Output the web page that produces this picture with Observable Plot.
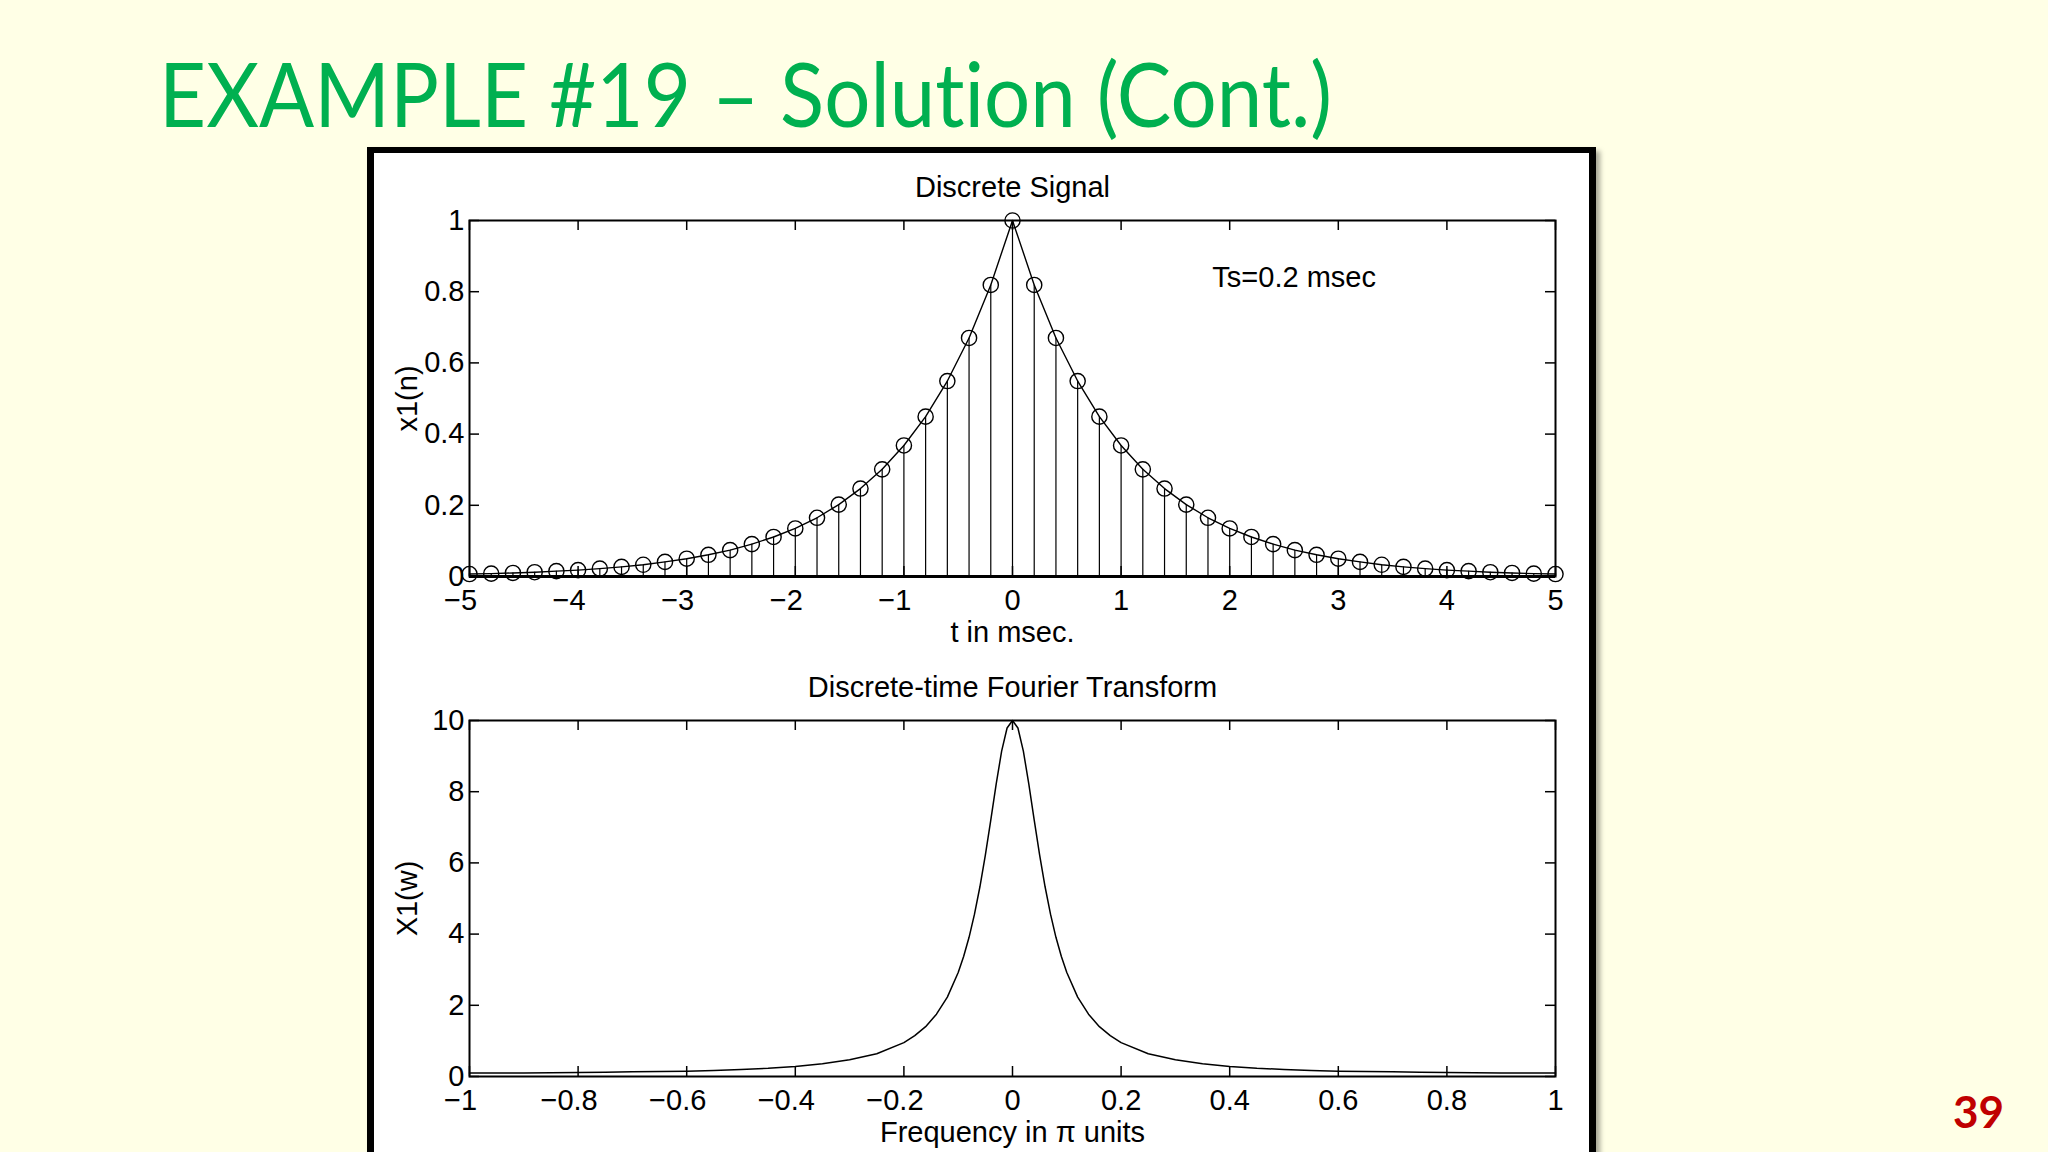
<!DOCTYPE html>
<html>
<head>
<meta charset="utf-8">
<script src="https://cdn.jsdelivr.net/npm/d3@7"></script>
<script src="https://cdn.jsdelivr.net/npm/@observablehq/plot@0.6"></script>
<style>
  html, body { margin: 0; padding: 0; }
  body { width: 2048px; height: 1152px; overflow: hidden; position: relative; background: #FFFFE6; }
  #frame { position: absolute; left: 367px; top: 147px; width: 1215px; height: 1100px;
           border: 7px solid #000; border-top-width: 6px; background: #fff;
           box-shadow: 4px 4px 5px rgba(0,0,0,0.35); }
  .plotbox { position: absolute; left: 375px; }
  #p1 { top: 155px; }
  #p2 { top: 655px; }
  #overlay { position: absolute; left: 0; top: 0; pointer-events: none; font-variant-ligatures: none; }
</style>
</head>
<body>
<div id="frame"></div>
<div id="p1" class="plotbox"></div>
<div id="p2" class="plotbox"></div>
<svg id="overlay" width="2048" height="1152">
  <text x="159" y="127" font-family="Lato, 'Open Sans', sans-serif" font-size="90" fill="#00B050"
        textLength="1173" lengthAdjust="spacingAndGlyphs" style="font-variant-ligatures:none">EXAMPLE #19 – Solution (Cont.)</text>
  <text x="1953" y="1128" font-family="Lato, 'Open Sans', sans-serif" font-weight="bold" font-size="44" fill="#C00000">39</text>
</svg>
<script>
// ---- Data ----
const tValues = [-5,-4.8,-4.6,-4.4,-4.2,-4,-3.8,-3.6,-3.4,-3.2,-3,-2.8,-2.6,-2.4,-2.2,-2,-1.8,-1.6,-1.4,-1.2,-1,-0.8,-0.6,-0.4,-0.2,
  0,0.2,0.4,0.6,0.8,1,1.2,1.4,1.6,1.8,2,2.2,2.4,2.6,2.8,3,3.2,3.4,3.6,3.8,4,4.2,4.4,4.6,4.8,5];
const x1Values = [0.007,0.008,0.010,0.012,0.015,0.018,0.022,0.027,0.033,0.041,0.050,0.061,0.074,0.091,0.111,0.135,0.165,0.202,0.247,0.301,0.368,0.449,0.549,0.670,0.819,
  1.000,
  0.819,0.670,0.549,0.449,0.368,0.301,0.247,0.202,0.165,0.135,0.111,0.091,0.074,0.061,0.050,0.041,0.033,0.027,0.022,0.018,0.015,0.012,0.010,0.008,0.007];

const freqValues = [-1,-0.95,-0.9,-0.85,-0.8,-0.75,-0.7,-0.65,-0.6,-0.55,-0.5,-0.45,-0.4,-0.35,-0.3,-0.25,-0.2,-0.18,-0.16,-0.14,-0.12,
  -0.1,-0.09,-0.08,-0.07,-0.06,-0.05,-0.04,-0.03,-0.02,-0.01,
  0,
  0.01,0.02,0.03,0.04,0.05,0.06,0.07,0.08,0.09,0.1,
  0.12,0.14,0.16,0.18,0.2,0.25,0.3,0.35,0.4,0.45,0.5,0.55,0.6,0.65,0.7,0.75,0.8,0.85,0.9,0.95,1];
const X1Values = [0.10,0.10,0.10,0.105,0.11,0.12,0.13,0.14,0.15,0.17,0.20,0.23,0.28,0.36,0.47,0.64,0.95,1.15,1.40,1.75,2.23,
  2.92,3.37,3.91,4.56,5.33,6.22,7.20,8.22,9.14,9.79,
  10.0,
  9.79,9.14,8.22,7.20,6.22,5.33,4.56,3.91,3.37,2.92,
  2.23,1.75,1.40,1.15,0.95,0.64,0.47,0.36,0.28,0.23,0.20,0.17,0.15,0.14,0.13,0.12,0.11,0.105,0.10,0.10,0.10];

const topXTicks = [-5,-4,-3,-2,-1,0,1,2,3,4,5];
const topYTicks = [0,0.2,0.4,0.6,0.8,1];
const botXTicks = [-1,-0.8,-0.6,-0.4,-0.2,0,0.2,0.4,0.6,0.8,1];
const botYTicks = [0,2,4,6,8,10];

const topTitle = "Discrete Signal";
const topXLabel = "t in msec.";
const topYLabel = "x1(n)";
const botTitle = "Discrete-time Fourier Transform";
const botXLabel = "Frequency in \u03C0 units";
const botYLabel = "X1(w)";
const annotation = [{t: 1.84, v: 0.838, label: "Ts=0.2 msec"}];

// ---- Layout ----
const W = 1210, mL = 94, mR = 30;
const innerW = W - mL - mR;
const innerH = 356;
const tickLen = 10;
const style = {background: "transparent", overflow: "visible", color: "#000",
  fontFamily: "'Liberation Sans', Arial, Helvetica, sans-serif", fontSize: "29px"};
const fmt = d => d < 0 ? "\u2212" + String(-d) : String(d);

function boxMarks(xTicks, yTicks, title, xLabel, yLabel) {
  const neg = xTicks.filter(d => d < 0), pos = xTicks.filter(d => d >= 0);
  return [
    Plot.frame({stroke: "#000", strokeWidth: 2}),
    Plot.ruleX(xTicks, {x: d => d, insetTop: innerH - tickLen, stroke: "#000", strokeWidth: 1.5}),
    Plot.ruleX(xTicks, {x: d => d, insetBottom: innerH - tickLen, stroke: "#000", strokeWidth: 1.5}),
    Plot.ruleY(yTicks, {y: d => d, insetRight: innerW - tickLen, stroke: "#000", strokeWidth: 1.5}),
    Plot.ruleY(yTicks, {y: d => d, insetLeft: innerW - tickLen, stroke: "#000", strokeWidth: 1.5}),
    Plot.axisX(neg, {anchor: "bottom", label: null, tickSize: 0, tickPadding: 13, dx: -9, tickFormat: fmt, fill: "#000"}),
    Plot.axisX(pos, {anchor: "bottom", label: null, tickSize: 0, tickPadding: 13, tickFormat: fmt, fill: "#000"}),
    Plot.axisY(yTicks, {anchor: "left", label: null, tickSize: 0, tickPadding: 5, tickFormat: fmt, fill: "#000"}),
    Plot.text([title], {text: d => d, frameAnchor: "top", lineAnchor: "middle", dy: -33, fill: "#000"}),
    Plot.text([xLabel], {text: d => d, frameAnchor: "bottom", lineAnchor: "middle", dy: 56, fill: "#000"}),
    Plot.text([yLabel], {text: d => d, frameAnchor: "left", textAnchor: "middle", lineAnchor: "middle", rotate: -90, dx: -62, fill: "#000"})
  ];
}

const signal = tValues.map((t, i) => ({t, v: x1Values[i]}));
const spectrum = freqValues.map((f, i) => ({f, v: X1Values[i]}));

const plot1 = Plot.plot({
  width: W, height: 500, marginLeft: mL, marginRight: mR, marginTop: 65, marginBottom: 79,
  style,
  x: {domain: [-5, 5]},
  y: {domain: [0, 1]},
  marks: [
    Plot.ruleX(signal, {x: "t", y1: 0, y2: "v", stroke: "#000", strokeWidth: 1.2}),
    Plot.line(signal, {x: "t", y: "v", stroke: "#000", strokeWidth: 1.4}),
    Plot.dot(signal, {x: "t", y: "v", r: 7.6, stroke: "#000", strokeWidth: 1.4, fill: "none"}),
    Plot.ruleY([0], {stroke: "#000", strokeWidth: 3}),
    ...boxMarks(topXTicks, topYTicks, topTitle, topXLabel, topYLabel),
    Plot.text(annotation, {x: "t", y: "v", text: "label", textAnchor: "start", lineAnchor: "middle", fill: "#000"})
  ]
});

const plot2 = Plot.plot({
  width: W, height: 497, marginLeft: mL, marginRight: mR, marginTop: 65, marginBottom: 76,
  style,
  x: {domain: [-1, 1]},
  y: {domain: [0, 10]},
  marks: [
    Plot.line(spectrum, {x: "f", y: "v", stroke: "#000", strokeWidth: 1.5}),
    ...boxMarks(botXTicks, botYTicks, botTitle, botXLabel, botYLabel)
  ]
});

for (const [id, p] of [["p1", plot1], ["p2", plot2]]) {
  p.style.maxWidth = "none";
  p.style.width = W + "px";
  document.getElementById(id).appendChild(p);
}
</script>
</body>
</html>
